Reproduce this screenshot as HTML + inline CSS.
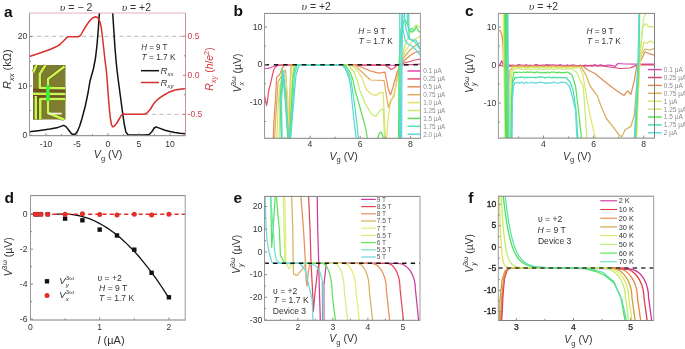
<!DOCTYPE html>
<html><head><meta charset="utf-8"><style>
html,body{margin:0;padding:0;background:#fff;width:685px;height:349px;overflow:hidden}
svg{display:block;filter:blur(0.3px);font-family:"Liberation Sans",Arial,sans-serif}
</style></head><body>
<svg width="685" height="349" viewBox="0 0 685 349">
<rect width="685" height="349" fill="#fff"/>
<line x1="29.5" y1="36.3" x2="185.5" y2="36.3" stroke="#b0b0b0" stroke-width="0.9" stroke-dasharray="4,3.5"/>
<line x1="122" y1="114.3" x2="185.5" y2="114.3" stroke="#b0b0b0" stroke-width="0.9" stroke-dasharray="4,3.5"/>
<rect x="33" y="65" width="32.5" height="54.5" fill="#7e7c30"/>
<rect x="33" y="88.5" width="32.5" height="10.5" fill="#6c5426"/>
<rect x="33" y="99" width="6" height="20.5" fill="#6e7030"/>
<polyline points="36.5,65 33.3,72.5" fill="none" stroke="#4a3818" stroke-width="3.6" stroke-opacity="0.55" stroke-linejoin="round" stroke-linecap="butt"/>
<polyline points="45.5,65 39.8,74 39.8,87.8 65.5,88.3" fill="none" stroke="#4a3818" stroke-width="3.6" stroke-opacity="0.55" stroke-linejoin="round" stroke-linecap="butt"/>
<polyline points="33,93.7 65.5,93.9" fill="none" stroke="#4a3818" stroke-width="3.6" stroke-opacity="0.55" stroke-linejoin="round" stroke-linecap="butt"/>
<polyline points="65.5,98.9 40.3,98.9 40.3,119.5" fill="none" stroke="#4a3818" stroke-width="3.6" stroke-opacity="0.55" stroke-linejoin="round" stroke-linecap="butt"/>
<polyline points="35.8,119.5 35.8,96" fill="none" stroke="#4a3818" stroke-width="3.6" stroke-opacity="0.55" stroke-linejoin="round" stroke-linecap="butt"/>
<polyline points="64.5,66.5 48,79 48,113 64,119.5" fill="none" stroke="#4a3818" stroke-width="3.6" stroke-opacity="0.55" stroke-linejoin="round" stroke-linecap="butt"/>
<polyline points="36.5,65 33.3,72.5" fill="none" stroke="#c8f64c" stroke-width="2.5" stroke-linejoin="round" stroke-linecap="butt"/>
<polyline points="45.5,65 39.8,74 39.8,87.8 65.5,88.3" fill="none" stroke="#c8f64c" stroke-width="2.5" stroke-linejoin="round" stroke-linecap="butt"/>
<polyline points="33,93.7 65.5,93.9" fill="none" stroke="#c8f64c" stroke-width="2.5" stroke-linejoin="round" stroke-linecap="butt"/>
<polyline points="65.5,98.9 40.3,98.9 40.3,119.5" fill="none" stroke="#c8f64c" stroke-width="2.5" stroke-linejoin="round" stroke-linecap="butt"/>
<polyline points="35.8,119.5 35.8,96" fill="none" stroke="#c8f64c" stroke-width="2.5" stroke-linejoin="round" stroke-linecap="butt"/>
<polyline points="64.5,66.5 48,79 48,113 64,119.5" fill="none" stroke="#c8f64c" stroke-width="2.5" stroke-linejoin="round" stroke-linecap="butt"/>
<line x1="47.9" y1="85" x2="47.9" y2="101" stroke="#3cf03c" stroke-width="3.2"/>
<line x1="46.2" y1="88.2" x2="49.6" y2="88.2" stroke="#3cf03c" stroke-width="2.4"/>
<line x1="46.2" y1="93.8" x2="49.6" y2="93.8" stroke="#3cf03c" stroke-width="2.4"/>
<line x1="46.2" y1="98.9" x2="49.6" y2="98.9" stroke="#3cf03c" stroke-width="2.4"/>
<line x1="48.6" y1="113.6" x2="61.7" y2="113.6" stroke="#f4f4dc" stroke-width="1.8"/>
<clipPath id="ca"><rect x="29.5" y="13" width="156" height="122.7"/></clipPath>
<g clip-path="url(#ca)">
<polyline points="29.5,131.8 40,130.4 50,128.9 58,127.4 63.5,125.4 66,126.6 69,130.5 71.5,133.7 73.4,134.5 75.5,134 77.5,131.2 79.6,126.3 82,118.5 85.3,106 88,93 90,81 92,74 93.6,68 95.5,58 97,45 98.4,28 99.4,13" fill="none" stroke="#111" stroke-width="1.5" stroke-linejoin="round" stroke-linecap="butt"/>
<polyline points="112.7,13 113.8,30 115,48 116,60 117,70 118.5,82 120.5,97 122.5,112 124.3,124.5 126,132.3 128,134.7 135,135.1 145,135.1 149.2,134.4 152,131.5 154.3,128 156.1,126.9 160,128.4 165,130.2 170,131.5 175,132.5 180,133.2 185.5,133.8" fill="none" stroke="#111" stroke-width="1.5" stroke-linejoin="round" stroke-linecap="butt"/>
<polyline points="29.5,56.5 40,53 50,49.5 56,46.8 60,44.5 64,40.5 67,37.2 69,36.7 78.5,36.7 80.5,35.5 83,31 86,26 89.5,21 92.5,18 95.5,16.8 97.5,17.5 99.5,20.5 101,26 102,33 103,42 104.1,52 105.2,62 106.3,70 107.3,82 108.3,96 109.3,108 110.3,118 111.4,124.5 112.6,126.9 114.2,126.3 116.5,123.5 119.5,118.5 121.5,115 123,114.1 126,114.3 144.7,114.3 147.5,112.6 150.5,109 153.5,104 156,101 160,97.6 164,95 168.7,92.3 175,90 180,89.2 185.5,88.6" fill="none" stroke="#d8302c" stroke-width="1.5" stroke-linejoin="round" stroke-linecap="butt"/>
</g>
<line x1="29.5" y1="135.7" x2="185.5" y2="135.7" stroke="#808080" stroke-width="1.0"/>
<line x1="29.5" y1="13" x2="29.5" y2="135.7" stroke="#9a9a9a" stroke-width="1.0"/>
<line x1="29.5" y1="13" x2="185.5" y2="13" stroke="#e2b2be" stroke-width="1.0"/>
<line x1="185.5" y1="13" x2="185.5" y2="135.7" stroke="#c492a0" stroke-width="1.0"/>
<line x1="46" y1="135.7" x2="46" y2="133.1" stroke="#808080" stroke-width="0.9"/>
<line x1="77" y1="135.7" x2="77" y2="133.1" stroke="#808080" stroke-width="0.9"/>
<line x1="108" y1="135.7" x2="108" y2="133.1" stroke="#808080" stroke-width="0.9"/>
<line x1="139" y1="135.7" x2="139" y2="133.1" stroke="#808080" stroke-width="0.9"/>
<line x1="170" y1="135.7" x2="170" y2="133.1" stroke="#808080" stroke-width="0.9"/>
<line x1="61.5" y1="135.7" x2="61.5" y2="134.1" stroke="#808080" stroke-width="0.9"/>
<line x1="92.5" y1="135.7" x2="92.5" y2="134.1" stroke="#808080" stroke-width="0.9"/>
<line x1="123.5" y1="135.7" x2="123.5" y2="134.1" stroke="#808080" stroke-width="0.9"/>
<line x1="154.5" y1="135.7" x2="154.5" y2="134.1" stroke="#808080" stroke-width="0.9"/>
<line x1="29.5" y1="135.3" x2="32.1" y2="135.3" stroke="#808080" stroke-width="0.9"/>
<line x1="29.5" y1="86" x2="32.1" y2="86" stroke="#808080" stroke-width="0.9"/>
<line x1="29.5" y1="36.6" x2="32.1" y2="36.6" stroke="#808080" stroke-width="0.9"/>
<line x1="29.5" y1="110.6" x2="31.1" y2="110.6" stroke="#808080" stroke-width="0.9"/>
<line x1="29.5" y1="61.3" x2="31.1" y2="61.3" stroke="#808080" stroke-width="0.9"/>
<line x1="185.5" y1="114.3" x2="182.9" y2="114.3" stroke="#c06a7a" stroke-width="0.9"/>
<line x1="185.5" y1="75.3" x2="182.9" y2="75.3" stroke="#c06a7a" stroke-width="0.9"/>
<line x1="185.5" y1="36.3" x2="182.9" y2="36.3" stroke="#c06a7a" stroke-width="0.9"/>
<line x1="185.5" y1="94.8" x2="183.9" y2="94.8" stroke="#c06a7a" stroke-width="0.9"/>
<line x1="185.5" y1="55.8" x2="183.9" y2="55.8" stroke="#c06a7a" stroke-width="0.9"/>
<text x="46" y="146.9" font-size="8.6" text-anchor="middle" fill="#333">-10</text>
<text x="77" y="146.9" font-size="8.6" text-anchor="middle" fill="#333">-5</text>
<text x="108" y="146.9" font-size="8.6" text-anchor="middle" fill="#333">0</text>
<text x="139" y="146.9" font-size="8.6" text-anchor="middle" fill="#333">5</text>
<text x="170" y="146.9" font-size="8.6" text-anchor="middle" fill="#333">10</text>
<text x="27.2" y="137.9" font-size="8.6" text-anchor="end" fill="#333">0</text>
<text x="27.2" y="88.5" font-size="8.6" text-anchor="end" fill="#333">10</text>
<text x="27.2" y="39.2" font-size="8.6" text-anchor="end" fill="#333">20</text>
<text x="187.6" y="39.4" font-size="8.6" text-anchor="start" fill="#d4404c">0.5</text>
<text x="187.6" y="78.4" font-size="8.6" text-anchor="start" fill="#d4404c">0.0</text>
<text x="187.6" y="117.4" font-size="8.6" text-anchor="start" fill="#d4404c">-0.5</text>
<text x="4" y="16.6" font-size="15.5" text-anchor="start" fill="#111" font-weight="bold">a</text>
<text x="59.5" y="10.6" font-size="10.6" text-anchor="start" fill="#333"><tspan font-family="DejaVu Serif" font-style="italic" font-size="9.6">υ</tspan> = − 2</text>
<text x="121.4" y="10.6" font-size="10.4" text-anchor="start" fill="#333"><tspan font-family="DejaVu Serif" font-style="italic" font-size="9.6">υ</tspan> = +2</text>
<text x="141.3" y="50.4" font-size="8.6" text-anchor="start" fill="#333" textLength="26" lengthAdjust="spacingAndGlyphs"><tspan font-style="italic">H</tspan> = 9 T</text>
<text x="141.6" y="60.2" font-size="8.6" text-anchor="start" fill="#333" textLength="34" lengthAdjust="spacingAndGlyphs"><tspan font-style="italic">T</tspan> = 1.7 K</text>
<line x1="141" y1="70.7" x2="159" y2="70.7" stroke="#111" stroke-width="1.5"/>
<line x1="141" y1="82.5" x2="159" y2="82.5" stroke="#d8302c" stroke-width="1.5"/>
<text x="160.5" y="73.8" font-size="9.5" text-anchor="start" fill="#333"><tspan font-style="italic">R</tspan><tspan font-size="6" dy="2.2" font-style="italic">xx</tspan></text>
<text x="160.5" y="85.6" font-size="9.5" text-anchor="start" fill="#333"><tspan font-style="italic">R</tspan><tspan font-size="6" dy="2.2" font-style="italic">xy</tspan></text>
<text x="93.8" y="158.3" font-size="10.7" text-anchor="start" fill="#333"><tspan font-style="italic">V</tspan><tspan font-size="7.5" dy="2.5">g</tspan><tspan dy="-2.5"> (V)</tspan></text>
<text transform="translate(11,69.2) rotate(-90)" font-size="11" text-anchor="middle" fill="#333"><tspan font-style="italic">R</tspan><tspan font-size="7.5" dy="2.5" font-style="italic">xx</tspan><tspan dy="-2.5"> (kΩ)</tspan></text>
<text transform="translate(213,69) rotate(-90)" font-size="10.4" text-anchor="middle" fill="#d4383f"><tspan font-style="italic">R</tspan><tspan font-size="7.5" dy="2.5" font-style="italic">xy</tspan><tspan dy="-2.5"> (</tspan><tspan font-style="italic">h</tspan>/<tspan font-style="italic">e</tspan><tspan font-size="7.5" dy="-4">2</tspan><tspan dy="4">)</tspan></text>
<clipPath id="cb"><rect x="264.5" y="13.4" width="155.9" height="124.9"/></clipPath>
<g clip-path="url(#cb)">
<polyline points="264.5,68.3 268,68.5 272,67 276,65.5 280,65 390,65 395,65.5 400,65.2 410,64.6 421,64" fill="none" stroke="#e846a4" stroke-width="1.25" stroke-linejoin="round" stroke-linecap="butt"/>
<polyline points="264.5,95 265.5,100 266.6,105.5 267.6,100 268.3,93 269.7,86.4 270.3,84.6 272,77.2 273.7,70 275,67.5 277.6,65.5 280,65.1 385,65.1 388,67 391,69.5 394,68 396,66 401,64 410,61.5 415,60 421,59" fill="none" stroke="#e8506c" stroke-width="1.25" stroke-linejoin="round" stroke-linecap="butt"/>
<polyline points="273.2,140 274,120 275.5,100 276.6,77.2 278.3,76 280,73.8 282.3,68 284.6,65.2 355,65.2 357,65.6 362,67.5 370.3,70.8 378.5,73.1 385,72.2 386.5,80 388.5,90 390.6,94.7 392.8,88 395,80 396.9,72.7 400,66 405,60 410,55.5 415,52.5 421,51.2" fill="none" stroke="#e88c5c" stroke-width="1.25" stroke-linejoin="round" stroke-linecap="butt"/>
<polyline points="274.6,140 275.5,120 276.9,100 278,82 281,77 284,72 285.5,70 286.2,80 286.8,100 287.8,140" fill="none" stroke="#dcae5e" stroke-width="1.25" stroke-linejoin="round" stroke-linecap="butt"/>
<polyline points="289,140 289.8,100 290.3,80 291,67 292,65.2 353,65.2 355,65.6 362,72 370.3,80 384,80.5 385.5,90 388.4,107.3 391,100 393.6,97 396,85 398,72 401,64 405,56 410,50 415,46 421,42" fill="none" stroke="#dcae5e" stroke-width="1.25" stroke-linejoin="round" stroke-linecap="butt"/>
<polyline points="276.9,140 277.5,120 278.5,100 280,85 283,78 285,74 286.5,85 288,100 288.7,140" fill="none" stroke="#e0e070" stroke-width="1.25" stroke-linejoin="round" stroke-linecap="butt"/>
<polyline points="289.5,140 290.5,100 291,75 292.5,65.5 350,65.2 352,65.6 357,70 362,78 366.6,90 371.2,94 375.7,95.4 380.2,92.5 383.2,92.5 385.4,140" fill="none" stroke="#e0e070" stroke-width="1.25" stroke-linejoin="round" stroke-linecap="butt"/>
<polyline points="386.5,140 388,120 390,105 395,90 401,64 405,52 410,44 415,39 421,36" fill="none" stroke="#e0e070" stroke-width="1.25" stroke-linejoin="round" stroke-linecap="butt"/>
<polyline points="279.1,140 279.5,120 280.3,100 281.5,80 282.6,72 285,90 287.5,120 288.5,140" fill="none" stroke="#c4ec6c" stroke-width="1.25" stroke-linejoin="round" stroke-linecap="butt"/>
<polyline points="290,140 291.5,100 292.5,78 294,65.2 347,65.2 349,65.6 354,72 357,80 359.7,90 365,103 371.2,114 375.7,116.3 380.2,110.3 383.2,108.8 384.6,140" fill="none" stroke="#c4ec6c" stroke-width="1.25" stroke-linejoin="round" stroke-linecap="butt"/>
<polyline points="399.5,140 401,64 405,45 410,33 413,28 416.3,24.9 421,28" fill="none" stroke="#c4ec6c" stroke-width="1.25" stroke-linejoin="round" stroke-linecap="butt"/>
<polyline points="281.3,140 280.5,110 280,100 282.3,69.2 285.2,100 288,140" fill="none" stroke="#5ce05c" stroke-width="1.25" stroke-linejoin="round" stroke-linecap="butt"/>
<polyline points="289.5,140 292.5,88 293.2,75 295.5,65.2 344,65.2 345.5,65.6 350,72 353,80 355,90 357.9,100 362,115 366,129.7 367.5,140" fill="none" stroke="#5ce05c" stroke-width="1.25" stroke-linejoin="round" stroke-linecap="butt"/>
<polyline points="377.2,140 379,134 381,131.9 382.5,135 383.5,140" fill="none" stroke="#5ce05c" stroke-width="1.25" stroke-linejoin="round" stroke-linecap="butt"/>
<polyline points="398.6,140 399,65 401,30 403.4,21.3 405.5,20.2 408,26.4 410.1,31.1 412.2,32.1 414.7,30 416.3,26.4 418.4,31.1 421,32.6" fill="none" stroke="#5ce05c" stroke-width="1.25" stroke-linejoin="round" stroke-linecap="butt"/>
<polyline points="281.8,140 281,100 283,70.5 285.6,100 288.6,140" fill="none" stroke="#4ee2b4" stroke-width="1.25" stroke-linejoin="round" stroke-linecap="butt"/>
<polyline points="290,140 293,100 294.4,75 297.2,65.2 342,65.2 344,65.6 348,72 351,80 352.5,90 354,100 356.5,120 358.6,140" fill="none" stroke="#4ee2b4" stroke-width="1.25" stroke-linejoin="round" stroke-linecap="butt"/>
<polyline points="399.6,140 399.8,60 399.8,13" fill="none" stroke="#4ee2b4" stroke-width="1.25" stroke-linejoin="round" stroke-linecap="butt"/>
<polyline points="408.6,13 409,25 408.6,29.5 410.6,28.5 412.7,29 415,31" fill="none" stroke="#4ee2b4" stroke-width="1.25" stroke-linejoin="round" stroke-linecap="butt"/>
<polyline points="404.2,13 405.5,27 409,39.2 413,40 417,45 421,51" fill="none" stroke="#4ee2b4" stroke-width="1.25" stroke-linejoin="round" stroke-linecap="butt"/>
<polyline points="282,140 281.5,100 283.5,71.5 286,100 289,140" fill="none" stroke="#5cd6dc" stroke-width="1.25" stroke-linejoin="round" stroke-linecap="butt"/>
<polyline points="290.5,140 293.8,100 296,75 299,65.2 340,65.2 342.8,65.6 346,70 349,78 351,90 351.9,100 354,120 356.4,140" fill="none" stroke="#5cd6dc" stroke-width="1.25" stroke-linejoin="round" stroke-linecap="butt"/>
<polyline points="400.5,140 401,60 401.9,13" fill="none" stroke="#5cd6dc" stroke-width="1.25" stroke-linejoin="round" stroke-linecap="butt"/>
<polyline points="407,13 408,25 409.6,38.8 412.7,40.9 415.8,39.8 418,44 421,50" fill="none" stroke="#5cd6dc" stroke-width="1.25" stroke-linejoin="round" stroke-linecap="butt"/>
<polyline points="402.6,13 403.2,30 405,40 408,44 412,46 416,50 421,56" fill="none" stroke="#5cd6dc" stroke-width="1.25" stroke-linejoin="round" stroke-linecap="butt"/>
<polyline points="401.6,140 402,60 402.6,13" fill="none" stroke="#5cd6dc" stroke-width="1.25" stroke-linejoin="round" stroke-linecap="butt"/>
</g>
<line x1="264.5" y1="64.8" x2="420.4" y2="64.8" stroke="#1a1a1a" stroke-width="1.5" stroke-dasharray="4.6,4.7"/>
<line x1="264.5" y1="13.4" x2="420.4" y2="13.4" stroke="#808080" stroke-width="1.0"/>
<line x1="264.5" y1="138.3" x2="420.4" y2="138.3" stroke="#808080" stroke-width="1.0"/>
<line x1="264.5" y1="12.9" x2="264.5" y2="138.8" stroke="#9a9a9a" stroke-width="1.0"/>
<line x1="420.4" y1="12.9" x2="420.4" y2="138.8" stroke="#9a9a9a" stroke-width="1.0"/>
<line x1="310" y1="138.3" x2="310" y2="135.7" stroke="#808080" stroke-width="0.9"/>
<line x1="360.2" y1="138.3" x2="360.2" y2="135.7" stroke="#808080" stroke-width="0.9"/>
<line x1="410.4" y1="138.3" x2="410.4" y2="135.7" stroke="#808080" stroke-width="0.9"/>
<line x1="284.9" y1="138.3" x2="284.9" y2="136.7" stroke="#808080" stroke-width="0.9"/>
<line x1="335.1" y1="138.3" x2="335.1" y2="136.7" stroke="#808080" stroke-width="0.9"/>
<line x1="385.3" y1="138.3" x2="385.3" y2="136.7" stroke="#808080" stroke-width="0.9"/>
<line x1="264.5" y1="27" x2="267.1" y2="27" stroke="#808080" stroke-width="0.9"/>
<line x1="264.5" y1="64.8" x2="267.1" y2="64.8" stroke="#808080" stroke-width="0.9"/>
<line x1="264.5" y1="102.6" x2="267.1" y2="102.6" stroke="#808080" stroke-width="0.9"/>
<line x1="264.5" y1="45.9" x2="266.1" y2="45.9" stroke="#808080" stroke-width="0.9"/>
<line x1="264.5" y1="83.7" x2="266.1" y2="83.7" stroke="#808080" stroke-width="0.9"/>
<line x1="264.5" y1="121.5" x2="266.1" y2="121.5" stroke="#808080" stroke-width="0.9"/>
<text x="262.2" y="29.6" font-size="8.6" text-anchor="end" fill="#333">10</text>
<text x="262.2" y="67.4" font-size="8.6" text-anchor="end" fill="#333">0</text>
<text x="262.2" y="105.2" font-size="8.6" text-anchor="end" fill="#333">-10</text>
<text x="310" y="146.9" font-size="8.6" text-anchor="middle" fill="#333">4</text>
<text x="360.2" y="146.9" font-size="8.6" text-anchor="middle" fill="#333">6</text>
<text x="410.4" y="146.9" font-size="8.6" text-anchor="middle" fill="#333">8</text>
<line x1="407.5" y1="71" x2="420.4" y2="71" stroke="#e846a4" stroke-width="1.5"/>
<text x="423.2" y="73.4" font-size="6.4" text-anchor="start" fill="#8c8c8c">0.1 µA</text>
<line x1="407.5" y1="78.9" x2="420.4" y2="78.9" stroke="#e8506c" stroke-width="1.5"/>
<text x="423.2" y="81.3" font-size="6.4" text-anchor="start" fill="#8c8c8c">0.25 µA</text>
<line x1="407.5" y1="86.8" x2="420.4" y2="86.8" stroke="#e88c5c" stroke-width="1.5"/>
<text x="423.2" y="89.2" font-size="6.4" text-anchor="start" fill="#8c8c8c">0.5 µA</text>
<line x1="407.5" y1="94.7" x2="420.4" y2="94.7" stroke="#dcae5e" stroke-width="1.5"/>
<text x="423.2" y="97.1" font-size="6.4" text-anchor="start" fill="#8c8c8c">0.75 µA</text>
<line x1="407.5" y1="102.6" x2="420.4" y2="102.6" stroke="#e0e070" stroke-width="1.5"/>
<text x="423.2" y="105" font-size="6.4" text-anchor="start" fill="#8c8c8c">1.0 µA</text>
<line x1="407.5" y1="110.5" x2="420.4" y2="110.5" stroke="#c4ec6c" stroke-width="1.5"/>
<text x="423.2" y="112.9" font-size="6.4" text-anchor="start" fill="#8c8c8c">1.25 µA</text>
<line x1="407.5" y1="118.4" x2="420.4" y2="118.4" stroke="#5ce05c" stroke-width="1.5"/>
<text x="423.2" y="120.8" font-size="6.4" text-anchor="start" fill="#8c8c8c">1.5 µA</text>
<line x1="407.5" y1="126.3" x2="420.4" y2="126.3" stroke="#4ee2b4" stroke-width="1.5"/>
<text x="423.2" y="128.7" font-size="6.4" text-anchor="start" fill="#8c8c8c">1.75 µA</text>
<line x1="407.5" y1="134.2" x2="420.4" y2="134.2" stroke="#5cd6dc" stroke-width="1.5"/>
<text x="423.2" y="136.6" font-size="6.4" text-anchor="start" fill="#8c8c8c">2.0 µA</text>
<text x="233.5" y="15.6" font-size="15.5" text-anchor="start" fill="#111" font-weight="bold">b</text>
<text x="301.3" y="10.4" font-size="10.4" text-anchor="start" fill="#333"><tspan font-family="DejaVu Serif" font-style="italic" font-size="9.6">υ</tspan> = +2</text>
<text x="358.2" y="34.2" font-size="8.3" text-anchor="start" fill="#333"><tspan font-style="italic">H</tspan> = 9 T</text>
<text x="358.8" y="43.8" font-size="8.3" text-anchor="start" fill="#333"><tspan font-style="italic">T</tspan> = 1.7 K</text>
<text transform="translate(241,73) rotate(-90)" font-size="10.5" text-anchor="middle" fill="#333"><tspan font-style="italic">V</tspan><tspan font-size="7" dy="2.6" font-style="italic">x</tspan><tspan font-size="7" dx="-3.6" dy="-7.2">3ω</tspan><tspan dy="4.6"> (µV)</tspan></text>
<text x="329.6" y="159.7" font-size="10.5" text-anchor="start" fill="#333"><tspan font-style="italic">V</tspan><tspan font-size="7.5" dy="2.5">g</tspan><tspan dy="-2.5"> (V)</tspan></text>
<clipPath id="cc"><rect x="498.4" y="13.4" width="156.1" height="124.7"/></clipPath>
<g clip-path="url(#cc)">
<polyline points="498.4,67 500,64.5 501.8,60.8 503,64.5 505,65.3 505,64.9 506.6,65.7 508.2,65.6 509.8,65 511.4,65.3 513,65.2 514.6,65.5 516.2,65.6 517.8,64.8 519.4,64.7 521,65.7 522.6,65.2 524.2,65.6 525.8,64.7 527.4,65.2 529,65.6 530.6,65 532.2,65.8 533.8,65.8 535.4,64.7 537,64.7 538.6,65.3 540.2,65.8 541.8,65.2 543.4,65 545,65.2 546.6,64.7 548.2,65 549.8,65.2 551.4,65.3 553,65 554.6,65 556.2,65 557.8,65.3 559.4,65 561,64.7 562.6,65.7 564.2,65.4 565.8,65.5 567.4,64.9 569,65.9 570.6,65.7 572.2,64.8 573.8,65.1 575.4,65.6 577,65.6 578.6,65.8 580.2,65.2 581.8,65.7 583.4,65.5 585,65.1 586.6,65.4 588.2,65.8 589.8,65.7 591.4,65.3 593,65.4 594.6,64.7 596.2,65 597.8,65.7 599.4,65.2 601,64.9 602.6,65.4 604.2,65.5 605.8,65.5 607.4,65.1 609,65.2 610.6,65.3 612,65.3 615,66.5 618,63.5 625,64 637,64.2 655,64" fill="none" stroke="#d44cbc" stroke-width="1.25" stroke-linejoin="round" stroke-linecap="butt"/>
<polyline points="498.4,66 500,65.3 503,66 503,66.1 504.6,66.1 506.2,65.1 507.8,65.1 509.4,66 511,65.9 512.6,65.8 514.2,65.4 515.8,65.7 517.4,65.7 519,65.7 520.6,65.2 522.2,65.5 523.8,65.5 525.4,65.9 527,66.2 528.6,66.1 530.2,65.7 531.8,65.5 533.4,65.3 535,65 536.6,65 538.2,65.6 539.8,65.4 541.4,65.5 543,66.1 544.6,65.6 546.2,65.7 547.8,65.3 549.4,65 551,65.4 552.6,65.2 554.2,65.6 555.8,66.2 557.4,65.8 559,65.2 560.6,66.1 562.2,66 563.8,65.9 565.4,66.1 567,65.9 568.6,65.9 570.2,65.4 571.8,66.2 573.4,66.2 575,65.2 576.6,65.9 578.2,65.9 579.8,65.6 581.4,65.6 583,65.6 584.6,66.1 586.2,65.6 587.8,66 589.4,65.4 591,66.1 592.6,66.1 594.2,65.6 595.8,65.7 597.4,66.1 599,65.9 600,65.6 610,67 620,68.5 630,68 637,65.2 645,64.6 655,65" fill="none" stroke="#d8486c" stroke-width="1.25" stroke-linejoin="round" stroke-linecap="butt"/>
<polyline points="498.4,29.9 500.5,31 502.2,36.6 503,45 503.5,64 504.5,68 507,67.5 510,66.5 513,66.1 513,65.8 514.6,66.1 516.2,66 517.8,66.2 519.4,66.2 521,65.7 522.6,65.6 524.2,66.4 525.8,65.9 527.4,65.8 529,66.6 530.6,66.1 532.2,66.4 533.8,66.1 535.4,66.2 537,65.8 538.6,66.2 540.2,66.5 541.8,66.1 543.4,66.3 545,66.3 546.6,65.7 548.2,66.4 549.8,66.2 551.4,65.9 553,65.6 554.6,66.5 556.2,66.1 557.8,66.3 559.4,66.5 561,66.3 562.6,66.5 564.2,66 565.8,66.4 567.4,66 569,66.5 570.6,66.5 572.2,65.7 573.8,65.7 575.4,65.8 577,66.6 578.6,66 580.2,66.2 581.8,65.9 582,66.1 583,66.3 588,70 595,73.5 604,81 613.7,88.6 620,93 624,95.5 627.5,90.9 630.9,94.3 634.3,80.6 637,64.6 641,60 645,52 650,53.8 655,55.5" fill="none" stroke="#d8905c" stroke-width="1.25" stroke-linejoin="round" stroke-linecap="butt"/>
<polyline points="508,140 508.5,90 510,70 513,66.6 513,66.3 514.6,66.2 516.2,66.5 517.8,66.3 519.4,66.2 521,66.5 522.6,67 524.2,66.9 525.8,66.9 527.4,66.3 529,66.6 530.6,66.4 532.2,66.3 533.8,66.2 535.4,66.3 537,67 538.6,66.9 540.2,66.9 541.8,66.9 543.4,66.3 545,66.4 546.6,66.7 548.2,66.8 549.8,67 551.4,67 553,66.2 554.6,66.7 556.2,66.8 557.8,66.6 559.4,66.3 561,66.6 562.6,66.2 564.2,67 565.8,67 567.4,66.6 569,66.4 570.6,67 572.2,66.7 573.8,67 575.4,66.9 577,66.6 578.6,66.5 580,66.6 581,66.8 586,75 590.1,86 597.1,95.3 601,106 606.4,118.5 612.5,126.2 619.5,135.5 621.8,136.7 625.2,129.8 630.9,126.4 634.3,115 637,80 639,62 641,55 645,49 650,50 655,48" fill="none" stroke="#d8b060" stroke-width="1.25" stroke-linejoin="round" stroke-linecap="butt"/>
<polyline points="503.2,13 503.7,60 504.5,100 505,140" fill="none" stroke="#e4e46c" stroke-width="1.25" stroke-linejoin="round" stroke-linecap="butt"/>
<polyline points="509,140 509.5,90 510.5,72 513,67.4 513,67.5 514.6,67.6 516.2,67.7 517.8,67.8 519.4,67.6 521,67.8 522.6,66.9 524.2,67.4 525.8,67.8 527.4,67.5 529,67.8 530.6,67 532.2,67.4 533.8,67.1 535.4,67.4 537,67.5 538.6,66.9 540.2,67.1 541.8,67.2 543.4,67.8 545,67.7 546.6,67.1 548.2,67.7 549.8,67 551.4,67.5 553,67 554.6,66.9 556.2,67.8 557.8,67.1 559.4,67.1 561,67.9 562.6,67.8 564.2,67.2 565.8,67.9 567.4,67.4 569,67.6 570.6,67.1 572.2,67.8 573.8,67.6 575.4,67.9 577,67.8 578,67.4 580,68 583,75 584.7,86 589,110 593.2,129.3 596.3,140" fill="none" stroke="#e4e46c" stroke-width="1.25" stroke-linejoin="round" stroke-linecap="butt"/>
<polyline points="636.5,140 638,100 639.5,70 641,55 644,41.8 647,43.5 650,40.9 655,43.5" fill="none" stroke="#e4e46c" stroke-width="1.25" stroke-linejoin="round" stroke-linecap="butt"/>
<polyline points="504.8,13 505,80 505.5,140" fill="none" stroke="#c8ec78" stroke-width="1.25" stroke-linejoin="round" stroke-linecap="butt"/>
<polyline points="510,140 510.5,100 511.5,75 513,69 513,69.4 514.6,69.4 516.2,69 517.8,68.7 519.4,68.4 521,69.2 522.6,69 524.2,69.3 525.8,68.8 527.4,69.3 529,68.7 530.6,69.4 532.2,69.3 533.8,68.9 535.4,69 537,69.2 538.6,68.6 540.2,69.1 541.8,69.4 543.4,68.7 545,69.4 546.6,69.2 548.2,69.4 549.8,68.8 551.4,68.5 553,69.4 554.6,69.4 556.2,68.9 557.8,68.5 559.4,68.6 561,69.2 562.6,68.7 564.2,69.5 565.8,69.1 567.4,68.6 569,69.2 570.6,68.8 572,69 576.5,72 580,80 583.2,86 585,110 587,140" fill="none" stroke="#c8ec78" stroke-width="1.25" stroke-linejoin="round" stroke-linecap="butt"/>
<polyline points="636.3,140 639.5,62 641,45 643,26.3 646,23.7 649,27.2 652,26.3 655,28" fill="none" stroke="#c8ec78" stroke-width="1.25" stroke-linejoin="round" stroke-linecap="butt"/>
<polyline points="640,60 642,30 644,17 646,13" fill="none" stroke="#c8ec78" stroke-width="1.25" stroke-linejoin="round" stroke-linecap="butt"/>
<polyline points="505.5,13 506,80 506.7,140" fill="none" stroke="#58e058" stroke-width="1.25" stroke-linejoin="round" stroke-linecap="butt"/>
<polyline points="506.5,13 506.9,80 507.5,140" fill="none" stroke="#58e058" stroke-width="1.25" stroke-linejoin="round" stroke-linecap="butt"/>
<polyline points="504.8,13 505.1,80 505.8,140" fill="none" stroke="#58e058" stroke-width="1.25" stroke-linejoin="round" stroke-linecap="butt"/>
<polyline points="511,140 511.5,100 512.5,80 514,72.5 514,72.3 515.6,72.1 517.2,72.7 518.8,72 520.4,72.5 522,72.3 523.6,72 525.2,72.5 526.8,71.9 528.4,72.4 530,72 531.6,72 533.2,72.4 534.8,72.9 536.4,72 538,72.2 539.6,72.7 541.2,73 542.8,72.6 544.4,72.4 546,73.1 547.6,72 549.2,72.9 550.8,72.2 552.4,72.1 554,72 555.6,72.3 557.2,72.9 558.8,72.1 560.4,72.6 562,72.7 563.6,72.3 565.2,72.6 566.8,72 568,72.5 572,75 575.5,86 578.5,110 581.6,140" fill="none" stroke="#58e058" stroke-width="1.25" stroke-linejoin="round" stroke-linecap="butt"/>
<polyline points="635.5,140 638.9,60 639.6,13" fill="none" stroke="#58e058" stroke-width="1.25" stroke-linejoin="round" stroke-linecap="butt"/>
<polyline points="507.3,13 507.6,80 508.3,140" fill="none" stroke="#48e0ac" stroke-width="1.25" stroke-linejoin="round" stroke-linecap="butt"/>
<polyline points="511.5,140 512,100 513,82 515,77.5 515,77.1 516.6,78.1 518.2,77 519.8,77.8 521.4,76.9 523,77.1 524.6,78.2 526.2,77.1 527.8,77.7 529.4,77.4 531,77.4 532.6,77.5 534.2,77.1 535.8,78 537.4,76.9 539,77.1 540.6,76.8 542.2,77.2 543.8,77.4 545.4,78.1 547,77.3 548.6,77 550.2,77.2 551.8,78.2 553.4,76.9 555,77.7 556.6,77.3 558.2,77.7 559.8,77.3 561.4,77.8 563,77.5 564.6,77.7 566,77.5 570,82 573,90 576,110 578,140" fill="none" stroke="#48e0ac" stroke-width="1.25" stroke-linejoin="round" stroke-linecap="butt"/>
<polyline points="635,140 638.4,60 639.4,13" fill="none" stroke="#48e0ac" stroke-width="1.25" stroke-linejoin="round" stroke-linecap="butt"/>
<polyline points="508,13 508.3,80 509,140" fill="none" stroke="#64d8dc" stroke-width="1.25" stroke-linejoin="round" stroke-linecap="butt"/>
<polyline points="512,140 512.5,100 513.5,86 515,82.8 515,82.7 516.6,82.6 518.2,82.3 519.8,83.3 521.4,82.1 523,82.8 524.6,83.4 526.2,82.2 527.8,82.9 529.4,83 531,82.2 532.6,82.6 534.2,83.1 535.8,82.7 537.4,83.1 539,82.3 540.6,82.4 542.2,82.3 543.8,82.8 545.4,83.4 547,82.9 548.6,83.2 550.2,82.6 551.8,83.1 553.4,82.2 555,82.5 556.6,83 558.2,83.1 559.8,82.7 561.4,82.2 563,82.5 564.6,82.4 566,82.8 569.3,86 572,95 575.5,110 577,140" fill="none" stroke="#64d8dc" stroke-width="1.25" stroke-linejoin="round" stroke-linecap="butt"/>
<polyline points="634.3,140 638,60 639,13" fill="none" stroke="#64d8dc" stroke-width="1.25" stroke-linejoin="round" stroke-linecap="butt"/>
</g>
<line x1="498.4" y1="13.4" x2="654.5" y2="13.4" stroke="#808080" stroke-width="1.0"/>
<line x1="498.4" y1="138.1" x2="654.5" y2="138.1" stroke="#808080" stroke-width="1.0"/>
<line x1="498.4" y1="12.9" x2="498.4" y2="138.6" stroke="#9a9a9a" stroke-width="1.0"/>
<line x1="654.5" y1="12.9" x2="654.5" y2="138.6" stroke="#9a9a9a" stroke-width="1.0"/>
<line x1="543.5" y1="138.1" x2="543.5" y2="135.5" stroke="#808080" stroke-width="0.9"/>
<line x1="593.6" y1="138.1" x2="593.6" y2="135.5" stroke="#808080" stroke-width="0.9"/>
<line x1="643.7" y1="138.1" x2="643.7" y2="135.5" stroke="#808080" stroke-width="0.9"/>
<line x1="518.5" y1="138.1" x2="518.5" y2="136.5" stroke="#808080" stroke-width="0.9"/>
<line x1="568.5" y1="138.1" x2="568.5" y2="136.5" stroke="#808080" stroke-width="0.9"/>
<line x1="618.6" y1="138.1" x2="618.6" y2="136.5" stroke="#808080" stroke-width="0.9"/>
<line x1="498.4" y1="27" x2="501" y2="27" stroke="#808080" stroke-width="0.9"/>
<line x1="498.4" y1="65" x2="501" y2="65" stroke="#808080" stroke-width="0.9"/>
<line x1="498.4" y1="103" x2="501" y2="103" stroke="#808080" stroke-width="0.9"/>
<line x1="498.4" y1="46" x2="500" y2="46" stroke="#808080" stroke-width="0.9"/>
<line x1="498.4" y1="84" x2="500" y2="84" stroke="#808080" stroke-width="0.9"/>
<line x1="498.4" y1="122" x2="500" y2="122" stroke="#808080" stroke-width="0.9"/>
<text x="496.2" y="29.6" font-size="8.6" text-anchor="end" fill="#333">10</text>
<text x="496.2" y="67.6" font-size="8.6" text-anchor="end" fill="#333">0</text>
<text x="496.2" y="105.6" font-size="8.6" text-anchor="end" fill="#333">-10</text>
<text x="543.5" y="146.9" font-size="8.6" text-anchor="middle" fill="#333">4</text>
<text x="593.6" y="146.9" font-size="8.6" text-anchor="middle" fill="#333">6</text>
<text x="643.7" y="146.9" font-size="8.6" text-anchor="middle" fill="#333">8</text>
<line x1="648" y1="69.6" x2="661.8" y2="69.6" stroke="#d44cbc" stroke-width="1.5"/>
<text x="663.8" y="72" font-size="6.5" text-anchor="start" fill="#8c8c8c">0.1 µA</text>
<line x1="648" y1="77.5" x2="661.8" y2="77.5" stroke="#d8486c" stroke-width="1.5"/>
<text x="663.8" y="79.9" font-size="6.5" text-anchor="start" fill="#8c8c8c">0.25 µA</text>
<line x1="648" y1="85.4" x2="661.8" y2="85.4" stroke="#d8905c" stroke-width="1.5"/>
<text x="663.8" y="87.8" font-size="6.5" text-anchor="start" fill="#8c8c8c">0.5 µA</text>
<line x1="648" y1="93.3" x2="661.8" y2="93.3" stroke="#d8b060" stroke-width="1.5"/>
<text x="663.8" y="95.7" font-size="6.5" text-anchor="start" fill="#8c8c8c">0.75 µA</text>
<line x1="648" y1="101.2" x2="661.8" y2="101.2" stroke="#e4e46c" stroke-width="1.5"/>
<text x="663.8" y="103.6" font-size="6.5" text-anchor="start" fill="#8c8c8c">1 µA</text>
<line x1="648" y1="109.1" x2="661.8" y2="109.1" stroke="#c8ec78" stroke-width="1.5"/>
<text x="663.8" y="111.5" font-size="6.5" text-anchor="start" fill="#8c8c8c">1.25 µA</text>
<line x1="648" y1="117" x2="661.8" y2="117" stroke="#58e058" stroke-width="1.5"/>
<text x="663.8" y="119.4" font-size="6.5" text-anchor="start" fill="#8c8c8c">1.5 µA</text>
<line x1="648" y1="124.9" x2="661.8" y2="124.9" stroke="#48e0ac" stroke-width="1.5"/>
<text x="663.8" y="127.3" font-size="6.5" text-anchor="start" fill="#8c8c8c">1.75 µA</text>
<line x1="648" y1="132.8" x2="661.8" y2="132.8" stroke="#64d8dc" stroke-width="1.5"/>
<text x="663.8" y="135.2" font-size="6.5" text-anchor="start" fill="#8c8c8c">2 µA</text>
<line x1="654.5" y1="13.4" x2="654.5" y2="138.1" stroke="#808080" stroke-width="1.0"/>
<text x="465" y="15.6" font-size="15.5" text-anchor="start" fill="#111" font-weight="bold">c</text>
<text x="528.6" y="10.4" font-size="10.4" text-anchor="start" fill="#333"><tspan font-family="DejaVu Serif" font-style="italic" font-size="9.6">υ</tspan> = +2</text>
<text x="586.4" y="34.2" font-size="8.3" text-anchor="start" fill="#333"><tspan font-style="italic">H</tspan> = 9 T</text>
<text x="587" y="43.8" font-size="8.3" text-anchor="start" fill="#333"><tspan font-style="italic">T</tspan> = 1.7 K</text>
<text transform="translate(473.2,73.3) rotate(-90)" font-size="10.5" text-anchor="middle" fill="#333"><tspan font-style="italic">V</tspan><tspan font-size="7" dy="2.6" font-style="italic">y</tspan><tspan font-size="7" dx="-3.6" dy="-7.2">3ω</tspan><tspan dy="4.6"> (µV)</tspan></text>
<text x="563.1" y="159.5" font-size="10.5" text-anchor="start" fill="#333"><tspan font-style="italic">V</tspan><tspan font-size="7.5" dy="2.5">g</tspan><tspan dy="-2.5"> (V)</tspan></text>
<clipPath id="cd"><rect x="30.5" y="195.6" width="154.7" height="124.4"/></clipPath>
<g clip-path="url(#cd)">
<polyline points="56.1,214.2 65.1,214.2 67.7,214.3 70.3,214.4 72.9,214.7 75.5,215 78.1,215.5 80.7,216.1 83.3,216.8 85.9,217.6 88.5,218.4 91.1,219.4 93.6,220.5 96.2,221.7 98.8,223.1 101.4,224.5 104,226 106.6,227.6 109.2,229.3 111.8,231.2 114.4,233.1 117,235.2 119.6,237.3 122.2,239.6 124.8,241.9 127.4,244.4 130,247 132.6,249.6 135.2,252.4 137.8,255.3 140.4,258.3 142.9,261.4 145.5,264.6 148.1,267.9 150.7,271.3 153.3,274.8 155.9,278.4 158.5,282.1 161.1,286 163.7,289.9 166.3,293.9 168.9,298.1" fill="none" stroke="#111" stroke-width="1.3" stroke-linejoin="round" stroke-linecap="butt"/>
</g>
<line x1="30.5" y1="214.2" x2="185.2" y2="214.2" stroke="#e0302c" stroke-width="1.4" stroke-dasharray="4.2,3"/>
<rect x="33.1" y="212" width="4.4" height="4.4" fill="#111"/>
<rect x="35.2" y="212" width="4.4" height="4.4" fill="#111"/>
<rect x="38.7" y="212" width="4.4" height="4.4" fill="#111"/>
<rect x="45.6" y="212" width="4.4" height="4.4" fill="#111"/>
<rect x="62.9" y="216.4" width="4.4" height="4.4" fill="#111"/>
<rect x="80.2" y="218.1" width="4.4" height="4.4" fill="#111"/>
<rect x="97.5" y="227.4" width="4.4" height="4.4" fill="#111"/>
<rect x="114.8" y="233.3" width="4.4" height="4.4" fill="#111"/>
<rect x="132.1" y="247.5" width="4.4" height="4.4" fill="#111"/>
<rect x="149.4" y="270.6" width="4.4" height="4.4" fill="#111"/>
<rect x="166.7" y="295.1" width="4.4" height="4.4" fill="#111"/>
<circle cx="35.3" cy="214.2" r="2.5" fill="#e0302c"/>
<circle cx="37.4" cy="214.2" r="2.5" fill="#e0302c"/>
<circle cx="40.9" cy="214.2" r="2.5" fill="#e0302c"/>
<circle cx="47.8" cy="214.2" r="2.5" fill="#e0302c"/>
<circle cx="65.1" cy="214.2" r="2.5" fill="#e0302c"/>
<circle cx="82.4" cy="213.8" r="2.5" fill="#e0302c"/>
<circle cx="99.7" cy="214.5" r="2.5" fill="#e0302c"/>
<circle cx="117" cy="215.1" r="2.5" fill="#e0302c"/>
<circle cx="134.3" cy="214.2" r="2.5" fill="#e0302c"/>
<circle cx="151.6" cy="215.1" r="2.5" fill="#e0302c"/>
<circle cx="168.9" cy="214.2" r="2.5" fill="#e0302c"/>
<line x1="30.5" y1="195.6" x2="185.2" y2="195.6" stroke="#808080" stroke-width="1.0"/>
<line x1="30.5" y1="320" x2="185.2" y2="320" stroke="#808080" stroke-width="1.0"/>
<line x1="30.5" y1="195.1" x2="30.5" y2="320.5" stroke="#9a9a9a" stroke-width="1.0"/>
<line x1="185.2" y1="195.1" x2="185.2" y2="320.5" stroke="#9a9a9a" stroke-width="1.0"/>
<line x1="30.5" y1="320" x2="30.5" y2="317.4" stroke="#808080" stroke-width="0.9"/>
<line x1="99.7" y1="320" x2="99.7" y2="317.4" stroke="#808080" stroke-width="0.9"/>
<line x1="168.9" y1="320" x2="168.9" y2="317.4" stroke="#808080" stroke-width="0.9"/>
<line x1="65.1" y1="320" x2="65.1" y2="318.4" stroke="#808080" stroke-width="0.9"/>
<line x1="134.3" y1="320" x2="134.3" y2="318.4" stroke="#808080" stroke-width="0.9"/>
<line x1="30.5" y1="214.2" x2="33.1" y2="214.2" stroke="#808080" stroke-width="0.9"/>
<line x1="30.5" y1="249.2" x2="33.1" y2="249.2" stroke="#808080" stroke-width="0.9"/>
<line x1="30.5" y1="284.2" x2="33.1" y2="284.2" stroke="#808080" stroke-width="0.9"/>
<line x1="30.5" y1="319.2" x2="33.1" y2="319.2" stroke="#808080" stroke-width="0.9"/>
<line x1="30.5" y1="231.7" x2="32.1" y2="231.7" stroke="#808080" stroke-width="0.9"/>
<line x1="30.5" y1="266.7" x2="32.1" y2="266.7" stroke="#808080" stroke-width="0.9"/>
<line x1="30.5" y1="301.7" x2="32.1" y2="301.7" stroke="#808080" stroke-width="0.9"/>
<text x="27.5" y="216.8" font-size="8.6" text-anchor="end" fill="#333">0</text>
<text x="27.5" y="251.8" font-size="8.6" text-anchor="end" fill="#333">-2</text>
<text x="27.5" y="286.8" font-size="8.6" text-anchor="end" fill="#333">-4</text>
<text x="27.5" y="321.8" font-size="8.6" text-anchor="end" fill="#333">-6</text>
<text x="30.5" y="330.1" font-size="8.6" text-anchor="middle" fill="#333">0</text>
<text x="99.7" y="330.1" font-size="8.6" text-anchor="middle" fill="#333">1</text>
<text x="168.9" y="330.1" font-size="8.6" text-anchor="middle" fill="#333">2</text>
<text x="4.5" y="203" font-size="15.5" text-anchor="start" fill="#111" font-weight="bold">d</text>
<rect x="44.8" y="279.1" width="4.4" height="4.4" fill="#111"/>
<circle cx="47" cy="295.5" r="2.5" fill="#e0302c"/>
<text x="59.3" y="284.2" font-size="9.5" text-anchor="start" fill="#333"><tspan font-style="italic">V</tspan><tspan font-size="6.2" dy="2.4" font-style="italic">y</tspan><tspan font-size="6.2" dx="-3" dy="-6.4">3ω</tspan></text>
<text x="59.3" y="298.2" font-size="9.5" text-anchor="start" fill="#333"><tspan font-style="italic">V</tspan><tspan font-size="6.2" dy="2.4" font-style="italic">x</tspan><tspan font-size="6.2" dx="-3" dy="-6.4">3ω</tspan></text>
<text x="97.4" y="280.6" font-size="8.6" text-anchor="start" fill="#333">υ = +2</text>
<text x="99.1" y="290.8" font-size="8.6" text-anchor="start" fill="#333"><tspan font-style="italic">H</tspan> = 9 T</text>
<text x="99.1" y="300.8" font-size="8.6" text-anchor="start" fill="#333"><tspan font-style="italic">T</tspan> = 1.7 K</text>
<text transform="translate(11.5,256.8) rotate(-90)" font-size="10.5" text-anchor="middle" fill="#333"><tspan font-style="italic">V</tspan><tspan font-size="7" dy="-4.2">3ω</tspan><tspan dy="4.2"> (µV)</tspan></text>
<text x="97.5" y="344" font-size="11" text-anchor="start" fill="#333"><tspan font-style="italic">I</tspan> (µA)</text>
<clipPath id="ce"><rect x="264.5" y="196.4" width="155.5" height="123.9"/></clipPath>
<g clip-path="url(#ce)">
<polyline points="317.2,195 317.7,228 318.7,262 319.2,285 320.4,322" fill="none" stroke="#cc3c9c" stroke-width="1.25" stroke-linejoin="round" stroke-linecap="butt"/>
<polyline points="323.9,322 323.9,285 326.3,263.3 397.6,263.3 397.6,263.3 400.4,263.6 403.1,264.5 405.6,266 408,268.1 410.1,270.6 411.9,273.6 413.4,277 414.4,280.6 415.1,284.4 415.3,288.3 418.8,322" fill="none" stroke="#cc3c9c" stroke-width="1.25" stroke-linejoin="round" stroke-linecap="butt"/>
<polyline points="308.5,195 310,228 311,262 312.5,290 313.4,311.2 314.8,295 316.3,282 317.5,270 319,264 320,263.3 387,263.3 387,263.3 389,263.6 391,264.6 392.9,266.1 394.7,268.3 396.3,270.9 397.6,274 398.7,277.5 399.5,281.3 399.9,285.2 400.1,289.3 403.6,322" fill="none" stroke="#e0445c" stroke-width="1.25" stroke-linejoin="round" stroke-linecap="butt"/>
<polyline points="300.8,195 303.4,228 305.4,262 306.2,280 307,286 308,275 309.5,265 311,263.3 371,263.3 371,263.3 373.4,263.6 375.7,264.6 377.9,266.1 380,268.3 381.8,270.9 383.4,274 384.6,277.5 385.6,281.3 386.1,285.2 386.3,289.3 389.8,322" fill="none" stroke="#e8905c" stroke-width="1.25" stroke-linejoin="round" stroke-linecap="butt"/>
<polyline points="291.6,195 292.7,228 293.2,262 293.5,274.2 297,275.4 303.5,267.8 306,263.3 357,263.3 357,263.3 358.9,263.6 360.8,264.6 362.6,266.2 364.2,268.5 365.7,271.2 367,274.4 368,278 368.7,282 369.1,286.1 369.3,290.3 372.8,322" fill="none" stroke="#d8b060" stroke-width="1.25" stroke-linejoin="round" stroke-linecap="butt"/>
<polyline points="284.8,195 285.5,228 286,262 289,264 292,263.3 343.5,263.3 343.5,263.3 345.5,263.6 347.4,264.7 349.2,266.4 350.8,268.6 352.3,271.5 353.6,274.8 354.6,278.6 355.4,282.6 355.8,286.9 356,291.3 359.5,322" fill="none" stroke="#ecea70" stroke-width="1.25" stroke-linejoin="round" stroke-linecap="butt"/>
<polyline points="283.4,195 284,228 284.8,260.2 288.9,269 292.4,263.3 333.9,263.3 333.9,263.3 335.5,263.6 337.1,264.7 338.6,266.4 340,268.6 341.3,271.5 342.3,274.8 343.2,278.6 343.8,282.6 344.2,286.9 344.3,291.3 347.8,322" fill="none" stroke="#cff080" stroke-width="1.25" stroke-linejoin="round" stroke-linecap="butt"/>
<polyline points="276.3,195 278,215 279.4,230 280.4,255.6 284.5,262.8 286,263.3 322,263.3 322,263.3 323.6,263.7 325.1,264.8 326.6,266.6 327.9,269 329.1,272.1 330.2,275.7 331,279.7 331.6,284 332,288.6 332.1,293.3 335.6,322" fill="none" stroke="#5ee25e" stroke-width="1.25" stroke-linejoin="round" stroke-linecap="butt"/>
<polyline points="270.8,195 271.2,220 271.7,247.4 273.2,228 275.3,195" fill="none" stroke="#5ee25e" stroke-width="1.25" stroke-linejoin="round" stroke-linecap="butt"/>
<polyline points="270.5,195 272,215 273.7,235 274.5,250 276,259.6 279.4,262.8 300,263.3 310,263.6 316,266 320,272 323.5,285 323.3,322" fill="none" stroke="#6ee2c4" stroke-width="1.25" stroke-linejoin="round" stroke-linecap="butt"/>
<polyline points="265.1,195 266.1,228 267.1,241.3 269,252 271.7,261.7 273,263.1 298,263.3 300.5,264 305.2,270 308.7,285 312.2,300 313,322" fill="none" stroke="#6cd8e0" stroke-width="1.25" stroke-linejoin="round" stroke-linecap="butt"/>
<polyline points="322.2,282 322.5,322" fill="none" stroke="#9a7ab0" stroke-width="0.9" stroke-linejoin="round" stroke-linecap="butt"/>
</g>
<line x1="264.5" y1="263.3" x2="420" y2="263.3" stroke="#111" stroke-width="1.6" stroke-dasharray="4.4,4.2"/>
<line x1="264.5" y1="196.4" x2="420" y2="196.4" stroke="#808080" stroke-width="1.0"/>
<line x1="264.5" y1="320.3" x2="420" y2="320.3" stroke="#808080" stroke-width="1.0"/>
<line x1="264.5" y1="195.9" x2="264.5" y2="320.8" stroke="#9a9a9a" stroke-width="1.0"/>
<line x1="420" y1="195.9" x2="420" y2="320.8" stroke="#9a9a9a" stroke-width="1.0"/>
<line x1="297.9" y1="320.3" x2="297.9" y2="317.7" stroke="#808080" stroke-width="0.9"/>
<line x1="332.9" y1="320.3" x2="332.9" y2="317.7" stroke="#808080" stroke-width="0.9"/>
<line x1="367.9" y1="320.3" x2="367.9" y2="317.7" stroke="#808080" stroke-width="0.9"/>
<line x1="402.9" y1="320.3" x2="402.9" y2="317.7" stroke="#808080" stroke-width="0.9"/>
<line x1="280.4" y1="320.3" x2="280.4" y2="318.7" stroke="#808080" stroke-width="0.9"/>
<line x1="315.4" y1="320.3" x2="315.4" y2="318.7" stroke="#808080" stroke-width="0.9"/>
<line x1="350.4" y1="320.3" x2="350.4" y2="318.7" stroke="#808080" stroke-width="0.9"/>
<line x1="385.4" y1="320.3" x2="385.4" y2="318.7" stroke="#808080" stroke-width="0.9"/>
<line x1="264.5" y1="206.5" x2="267.1" y2="206.5" stroke="#808080" stroke-width="0.9"/>
<line x1="264.5" y1="229.2" x2="267.1" y2="229.2" stroke="#808080" stroke-width="0.9"/>
<line x1="264.5" y1="251.9" x2="267.1" y2="251.9" stroke="#808080" stroke-width="0.9"/>
<line x1="264.5" y1="274.6" x2="267.1" y2="274.6" stroke="#808080" stroke-width="0.9"/>
<line x1="264.5" y1="297.3" x2="267.1" y2="297.3" stroke="#808080" stroke-width="0.9"/>
<line x1="264.5" y1="320" x2="267.1" y2="320" stroke="#808080" stroke-width="0.9"/>
<line x1="264.5" y1="217.9" x2="266.1" y2="217.9" stroke="#808080" stroke-width="0.9"/>
<line x1="264.5" y1="240.6" x2="266.1" y2="240.6" stroke="#808080" stroke-width="0.9"/>
<line x1="264.5" y1="263.2" x2="266.1" y2="263.2" stroke="#808080" stroke-width="0.9"/>
<line x1="264.5" y1="285.9" x2="266.1" y2="285.9" stroke="#808080" stroke-width="0.9"/>
<line x1="264.5" y1="308.6" x2="266.1" y2="308.6" stroke="#808080" stroke-width="0.9"/>
<text x="262.2" y="209.1" font-size="8.6" text-anchor="end" fill="#333">20</text>
<text x="262.2" y="231.8" font-size="8.6" text-anchor="end" fill="#333">10</text>
<text x="262.2" y="254.5" font-size="8.6" text-anchor="end" fill="#333">0</text>
<text x="262.2" y="277.2" font-size="8.6" text-anchor="end" fill="#333">-10</text>
<text x="262.2" y="299.9" font-size="8.6" text-anchor="end" fill="#333">-20</text>
<text x="262.2" y="322.6" font-size="8.6" text-anchor="end" fill="#333">-30</text>
<text x="297.9" y="330.3" font-size="8.6" text-anchor="middle" fill="#333">2</text>
<text x="332.9" y="330.3" font-size="8.6" text-anchor="middle" fill="#333">3</text>
<text x="367.9" y="330.3" font-size="8.6" text-anchor="middle" fill="#333">4</text>
<text x="402.9" y="330.3" font-size="8.6" text-anchor="middle" fill="#333">5</text>
<line x1="361.1" y1="199.4" x2="375.8" y2="199.4" stroke="#cc3c9c" stroke-width="1.2"/>
<text x="376.7" y="201.7" font-size="6.6" text-anchor="start" fill="#555">9 T</text>
<line x1="361.1" y1="206.6" x2="375.8" y2="206.6" stroke="#e0445c" stroke-width="1.2"/>
<text x="376.7" y="208.9" font-size="6.6" text-anchor="start" fill="#555">8.5 T</text>
<line x1="361.1" y1="213.8" x2="375.8" y2="213.8" stroke="#e8905c" stroke-width="1.2"/>
<text x="376.7" y="216.1" font-size="6.6" text-anchor="start" fill="#555">8 T</text>
<line x1="361.1" y1="221" x2="375.8" y2="221" stroke="#d8b060" stroke-width="1.2"/>
<text x="376.7" y="223.3" font-size="6.6" text-anchor="start" fill="#555">7.5 T</text>
<line x1="361.1" y1="228.2" x2="375.8" y2="228.2" stroke="#ecea70" stroke-width="1.2"/>
<text x="376.7" y="230.5" font-size="6.6" text-anchor="start" fill="#555">7 T</text>
<line x1="361.1" y1="235.4" x2="375.8" y2="235.4" stroke="#cff080" stroke-width="1.2"/>
<text x="376.7" y="237.7" font-size="6.6" text-anchor="start" fill="#555">6.5 T</text>
<line x1="361.1" y1="242.6" x2="375.8" y2="242.6" stroke="#5ee25e" stroke-width="1.2"/>
<text x="376.7" y="244.9" font-size="6.6" text-anchor="start" fill="#555">6 T</text>
<line x1="361.1" y1="249.8" x2="375.8" y2="249.8" stroke="#6ee2c4" stroke-width="1.2"/>
<text x="376.7" y="252.1" font-size="6.6" text-anchor="start" fill="#555">5.5 T</text>
<line x1="361.1" y1="257" x2="375.8" y2="257" stroke="#6cd8e0" stroke-width="1.2"/>
<text x="376.7" y="259.3" font-size="6.6" text-anchor="start" fill="#555">5 T</text>
<text x="233.5" y="202.8" font-size="15.5" text-anchor="start" fill="#111" font-weight="bold">e</text>
<text x="273.1" y="293.9" font-size="8.6" text-anchor="start" fill="#333">υ = +2</text>
<text x="273.5" y="303.2" font-size="8.6" text-anchor="start" fill="#333"><tspan font-style="italic">T</tspan> = 1.7 K</text>
<text x="272.7" y="314.3" font-size="8.6" text-anchor="start" fill="#333">Device 3</text>
<text transform="translate(240,254.3) rotate(-90)" font-size="10.5" text-anchor="middle" fill="#333"><tspan font-style="italic">V</tspan><tspan font-size="7" dy="2.6" font-style="italic">y</tspan><tspan font-size="7" dx="-3.6" dy="-7.2">3ω</tspan><tspan dy="4.6"> (µV)</tspan></text>
<text x="329.3" y="342.3" font-size="10.5" text-anchor="start" fill="#333"><tspan font-style="italic">V</tspan><tspan font-size="7.5" dy="2.5">g</tspan><tspan dy="-2.5"> (V)</tspan></text>
<clipPath id="cf"><rect x="498.3" y="196.2" width="155.4" height="124.3"/></clipPath>
<g clip-path="url(#cf)">
<polyline points="501.6,323 503,295 504.4,279 507,270.6 510,268 615,268.5 624,269.5 629,269 629,269 632.1,269.3 635,270.4 637.9,272.1 640.5,274.3 642.8,277.2 644.8,280.5 646.4,284.3 647.5,288.3 648.3,292.6 648.5,297 652,323" fill="none" stroke="#d0309a" stroke-width="1.3" stroke-linejoin="round" stroke-linecap="butt"/>
<polyline points="501,323 502.5,295 504,279 506.5,270.6 510,268 622,268 622,268 625.4,268.4 628.8,269.5 632,271.3 634.9,273.7 637.6,276.8 639.8,280.4 641.6,284.4 642.9,288.7 643.7,293.3 644,298 647.5,323" fill="none" stroke="#e0403c" stroke-width="1.3" stroke-linejoin="round" stroke-linecap="butt"/>
<polyline points="500.5,323 502,295 503.7,279.2 506.3,270.6 509.8,268 616,268 616,268 619.4,268.4 622.6,269.5 625.8,271.3 628.6,273.7 631.2,276.8 633.4,280.4 635.2,284.4 636.4,288.7 637.2,293.3 637.5,298 641,323" fill="none" stroke="#e8843c" stroke-width="1.3" stroke-linejoin="round" stroke-linecap="butt"/>
<polyline points="499.5,323 500,300 502,280 505,271 509,268.2 611,268 611,268 614.3,268.4 617.5,269.5 620.5,271.3 623.3,273.7 625.8,276.8 628,280.4 629.7,284.4 631,288.7 631.7,293.3 632,298 635.5,323" fill="none" stroke="#c8a040" stroke-width="1.3" stroke-linejoin="round" stroke-linecap="butt"/>
<polyline points="499.4,196 499.7,208.3 500,218.5 500.3,226.9 500.6,233.9 500.9,239.7 501.2,244.6 501.5,248.5 501.8,251.9 502.1,254.6 502.4,256.9 502.7,258.8 503,260.3 503.3,261.6 503.6,262.7 503.9,263.6 504.2,264.3 504.5,264.9 504.8,265.4 505.1,265.9 505.4,266.2 505.7,266.5 506,266.7 506.3,266.9 506.6,267.1 506.9,267.2 507.2,267.4 507.5,267.4 507.8,267.5 508.1,267.6 508.4,267.6 508.7,267.7 509,267.7 509.3,267.8 509.6,267.8 509.9,267.8 510.2,267.8 510.5,267.8 510.8,267.8 511.1,267.9 607,268 607,268 610.4,268.4 613.7,269.5 616.9,271.3 619.8,273.7 622.4,276.8 624.6,280.4 626.4,284.4 627.7,288.7 628.5,293.3 628.8,298 632.3,323" fill="none" stroke="#e4e45c" stroke-width="1.3" stroke-linejoin="round" stroke-linecap="butt"/>
<polyline points="501.2,196 501.7,205.3 502.2,213.4 502.7,220.5 503.2,226.6 503.7,232 504.2,236.7 504.7,240.7 505.2,244.2 505.7,247.3 506.2,250 506.7,252.3 507.2,254.3 507.7,256.1 508.2,257.6 508.7,258.9 509.2,260.1 509.7,261.1 510.2,262 510.7,262.8 511.2,263.4 511.7,264 512.2,264.5 512.7,265 513.2,265.3 513.7,265.7 514.2,266 514.7,266.2 515.2,266.4 515.7,266.6 516.2,266.8 516.7,266.9 517.2,267.1 517.7,267.2 518.2,267.3 518.7,267.3 519.2,267.4 519.7,267.5 520.2,267.5 520.7,267.6 521.2,267.6 521.7,267.7 522.2,267.7 522.7,267.7 523.2,267.7 523.7,267.8 524.2,267.8 524.7,267.8 525.2,267.8 525.7,267.8 526.2,267.8 526.7,267.8 527.2,267.8 527.7,267.9 528.2,267.9 528.7,267.9 529.2,267.9 529.7,267.9 530.2,267.9 530.7,267.9 603,268 603,268 606.5,268.4 610,269.5 613.2,271.3 616.2,273.7 618.9,276.8 621.2,280.4 623,284.4 624.4,288.7 625.2,293.3 625.5,298 629,323" fill="none" stroke="#bcf070" stroke-width="1.3" stroke-linejoin="round" stroke-linecap="butt"/>
<polyline points="503.3,196 504.1,203.4 504.9,210 505.7,215.9 506.5,221.2 507.3,226 508.1,230.3 508.9,234.2 509.7,237.6 510.5,240.7 511.3,243.5 512.1,246 512.9,248.3 513.7,250.3 514.5,252.1 515.3,253.7 516.1,255.1 516.9,256.5 517.7,257.6 518.5,258.7 519.3,259.6 520.1,260.5 520.9,261.2 521.7,261.9 522.5,262.5 523.3,263.1 524.1,263.6 524.9,264 525.7,264.4 526.5,264.8 527.3,265.1 528.1,265.4 528.9,265.6 529.7,265.9 530.5,266.1 531.3,266.3 532.1,266.4 532.9,266.6 533.7,266.7 534.5,266.8 535.3,266.9 536.1,267 536.9,267.1 537.7,267.2 538.5,267.3 539.3,267.3 540.1,267.4 540.9,267.5 541.7,267.5 542.5,267.5 543.3,267.6 544.1,267.6 544.9,267.6 545.7,267.7 546.5,267.7 547.3,267.7 548.1,267.7 548.9,267.7 549.7,267.8 550.5,267.8 551.3,267.8 552.1,267.8 552.9,267.8 553.7,267.8 554.5,267.8 555.3,267.8 556.1,267.8 556.9,267.8 557.7,267.9 558.5,267.9 585,268.5 596,271.5 605,275.5 614,283 621,298 625.5,323" fill="none" stroke="#50e050" stroke-width="1.3" stroke-linejoin="round" stroke-linecap="butt"/>
<polyline points="505.3,196 506.1,203.2 506.9,209.6 507.7,215.5 508.5,220.7 509.3,225.4 510.1,229.7 510.9,233.5 511.7,236.9 512.5,240 513.3,242.8 514.1,245.3 514.9,247.6 515.7,249.6 516.5,251.4 517.3,253.1 518.1,254.6 518.9,255.9 519.7,257.1 520.5,258.2 521.3,259.1 522.1,260 522.9,260.8 523.7,261.5 524.5,262.2 525.3,262.7 526.1,263.2 526.9,263.7 527.7,264.1 528.5,264.5 529.3,264.8 530.1,265.1 530.9,265.4 531.7,265.7 532.5,265.9 533.3,266.1 534.1,266.3 534.9,266.4 535.7,266.6 536.5,266.7 537.3,266.8 538.1,266.9 538.9,267 539.7,267.1 540.5,267.2 541.3,267.3 542.1,267.3 542.9,267.4 543.7,267.4 544.5,267.5 545.3,267.5 546.1,267.6 546.9,267.6 547.7,267.6 548.5,267.7 549.3,267.7 550.1,267.7 550.9,267.7 551.7,267.7 552.5,267.8 553.3,267.8 554.1,267.8 554.9,267.8 555.7,267.8 556.5,267.8 557.3,267.8 558.1,267.8 558.9,267.8 559.7,267.8 560.5,267.8 585,268.2 595,270 603.3,272.7 614,281.8 622,300.1 626,318.5 626.5,323" fill="none" stroke="#5ee0b4" stroke-width="1.3" stroke-linejoin="round" stroke-linecap="butt"/>
</g>
<line x1="498.3" y1="267.9" x2="653.7" y2="267.9" stroke="#3a3a3a" stroke-width="1.5" stroke-dasharray="4.4,4"/>
<line x1="498.3" y1="196.2" x2="653.7" y2="196.2" stroke="#808080" stroke-width="1.0"/>
<line x1="498.3" y1="320.5" x2="653.7" y2="320.5" stroke="#808080" stroke-width="1.0"/>
<line x1="498.3" y1="195.7" x2="498.3" y2="321" stroke="#9a9a9a" stroke-width="1.0"/>
<line x1="653.7" y1="195.7" x2="653.7" y2="321" stroke="#9a9a9a" stroke-width="1.0"/>
<line x1="516.3" y1="320.5" x2="516.3" y2="317.9" stroke="#808080" stroke-width="0.9"/>
<line x1="573.5" y1="320.5" x2="573.5" y2="317.9" stroke="#808080" stroke-width="0.9"/>
<line x1="630.7" y1="320.5" x2="630.7" y2="317.9" stroke="#808080" stroke-width="0.9"/>
<line x1="544.9" y1="320.5" x2="544.9" y2="318.9" stroke="#808080" stroke-width="0.9"/>
<line x1="602.1" y1="320.5" x2="602.1" y2="318.9" stroke="#808080" stroke-width="0.9"/>
<line x1="498.3" y1="204.3" x2="500.9" y2="204.3" stroke="#808080" stroke-width="0.9"/>
<line x1="498.3" y1="225.8" x2="500.9" y2="225.8" stroke="#808080" stroke-width="0.9"/>
<line x1="498.3" y1="247.3" x2="500.9" y2="247.3" stroke="#808080" stroke-width="0.9"/>
<line x1="498.3" y1="268.8" x2="500.9" y2="268.8" stroke="#808080" stroke-width="0.9"/>
<line x1="498.3" y1="290.3" x2="500.9" y2="290.3" stroke="#808080" stroke-width="0.9"/>
<line x1="498.3" y1="311.8" x2="500.9" y2="311.8" stroke="#808080" stroke-width="0.9"/>
<line x1="498.3" y1="215.1" x2="499.9" y2="215.1" stroke="#808080" stroke-width="0.9"/>
<line x1="498.3" y1="236.6" x2="499.9" y2="236.6" stroke="#808080" stroke-width="0.9"/>
<line x1="498.3" y1="258.1" x2="499.9" y2="258.1" stroke="#808080" stroke-width="0.9"/>
<line x1="498.3" y1="279.6" x2="499.9" y2="279.6" stroke="#808080" stroke-width="0.9"/>
<line x1="498.3" y1="301.1" x2="499.9" y2="301.1" stroke="#808080" stroke-width="0.9"/>
<text x="496.2" y="206.9" font-size="8.6" text-anchor="end" fill="#222" stroke="#222" stroke-width="0.35">10</text>
<text x="496.2" y="228.4" font-size="8.6" text-anchor="end" fill="#222" stroke="#222" stroke-width="0.35">5</text>
<text x="496.2" y="249.9" font-size="8.6" text-anchor="end" fill="#222" stroke="#222" stroke-width="0.35">0</text>
<text x="496.2" y="271.4" font-size="8.6" text-anchor="end" fill="#222" stroke="#222" stroke-width="0.35">-5</text>
<text x="496.2" y="292.9" font-size="8.6" text-anchor="end" fill="#222" stroke="#222" stroke-width="0.35">-10</text>
<text x="496.2" y="314.4" font-size="8.6" text-anchor="end" fill="#222" stroke="#222" stroke-width="0.35">-15</text>
<text x="516.3" y="330.3" font-size="8.6" text-anchor="middle" fill="#222" stroke="#222" stroke-width="0.25">3</text>
<text x="573.5" y="330.3" font-size="8.6" text-anchor="middle" fill="#222" stroke="#222" stroke-width="0.25">4</text>
<text x="630.7" y="330.3" font-size="8.6" text-anchor="middle" fill="#222" stroke="#222" stroke-width="0.25">5</text>
<line x1="600.3" y1="200.8" x2="617.1" y2="200.8" stroke="#d0309a" stroke-width="1.1"/>
<text x="618.7" y="203.4" font-size="7.4" text-anchor="start" fill="#333">2 K</text>
<line x1="600.3" y1="209.5" x2="617.1" y2="209.5" stroke="#e0403c" stroke-width="1.1"/>
<text x="618.7" y="212.1" font-size="7.4" text-anchor="start" fill="#333">10 K</text>
<line x1="600.3" y1="218.2" x2="617.1" y2="218.2" stroke="#e8843c" stroke-width="1.1"/>
<text x="618.7" y="220.8" font-size="7.4" text-anchor="start" fill="#333">20 K</text>
<line x1="600.3" y1="226.9" x2="617.1" y2="226.9" stroke="#c8a040" stroke-width="1.1"/>
<text x="618.7" y="229.5" font-size="7.4" text-anchor="start" fill="#333">30 K</text>
<line x1="600.3" y1="235.6" x2="617.1" y2="235.6" stroke="#e4e45c" stroke-width="1.1"/>
<text x="618.7" y="238.2" font-size="7.4" text-anchor="start" fill="#333">40 K</text>
<line x1="600.3" y1="244.4" x2="617.1" y2="244.4" stroke="#bcf070" stroke-width="1.1"/>
<text x="618.7" y="247" font-size="7.4" text-anchor="start" fill="#333">50 K</text>
<line x1="600.3" y1="253.1" x2="617.1" y2="253.1" stroke="#50e050" stroke-width="1.1"/>
<text x="618.7" y="255.7" font-size="7.4" text-anchor="start" fill="#333">60 K</text>
<line x1="600.3" y1="261.8" x2="617.1" y2="261.8" stroke="#5ee0b4" stroke-width="1.1"/>
<text x="618.7" y="264.4" font-size="7.4" text-anchor="start" fill="#333">70 K</text>
<text x="468.3" y="202.5" font-size="15.5" text-anchor="start" fill="#111" font-weight="bold">f</text>
<text x="537.9" y="222.2" font-size="8.6" text-anchor="start" fill="#333">υ = +2</text>
<text x="537.5" y="232.5" font-size="8.6" text-anchor="start" fill="#333"><tspan font-style="italic">H</tspan> = 9 T</text>
<text x="537.9" y="244" font-size="8.6" text-anchor="start" fill="#333">Device 3</text>
<text transform="translate(473,253.4) rotate(-90)" font-size="10.2" text-anchor="middle" fill="#333"><tspan font-style="italic">V</tspan><tspan font-size="7" dy="2.6" font-style="italic">y</tspan><tspan font-size="7" dx="-3.6" dy="-7.2">3ω</tspan><tspan dy="4.6"> (µV)</tspan></text>
<text x="564.3" y="343" font-size="10.5" text-anchor="start" fill="#333"><tspan font-style="italic">V</tspan><tspan font-size="7.5" dy="2.5">g</tspan><tspan dy="-2.5"> (V)</tspan></text>
</svg></body></html>
